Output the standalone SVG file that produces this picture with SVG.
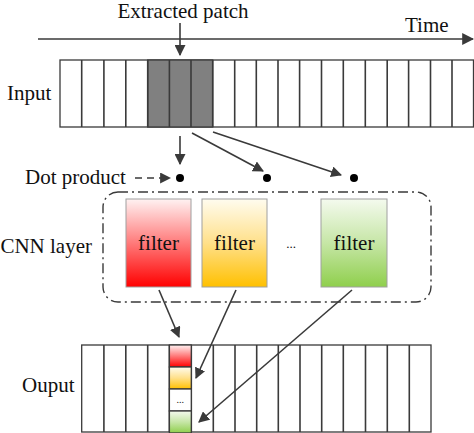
<svg xmlns="http://www.w3.org/2000/svg" width="474" height="433" viewBox="0 0 474 433">
<style>
text{font-family:"Liberation Serif","Times New Roman",serif;font-size:21px;fill:#111}
.cell{fill:#fff;stroke:#3a3a3a;stroke-width:1.3}
.gray{fill:#808080;stroke:#3a3a3a;stroke-width:1.3}
.ln{stroke:#3a3a3a;stroke-width:1.6;fill:none}
.flt{stroke:#a0a0a0;stroke-width:1}
</style>
<defs>
<marker id="ah" viewBox="0 0 10 10" refX="9" refY="5" markerWidth="11" markerHeight="11" markerUnits="userSpaceOnUse" orient="auto">
<path d="M0,0 L10,5 L0,10 Z" fill="#3a3a3a"/>
</marker>
<marker id="ahT" viewBox="0 0 10 10" refX="9" refY="5" markerWidth="12" markerHeight="12" markerUnits="userSpaceOnUse" orient="auto">
<path d="M0,0 L10,5 L0,10 Z" fill="#3a3a3a"/>
</marker>
<linearGradient id="gR" x1="0" y1="0" x2="0" y2="1"><stop offset="0" stop-color="#fff2f2"/><stop offset="0.5" stop-color="#ff7a7a"/><stop offset="1" stop-color="#ff0000"/></linearGradient>
<linearGradient id="gY" x1="0" y1="0" x2="0" y2="1"><stop offset="0" stop-color="#fffcef"/><stop offset="0.5" stop-color="#ffe08a"/><stop offset="1" stop-color="#ffc000"/></linearGradient>
<linearGradient id="gG" x1="0" y1="0" x2="0" y2="1"><stop offset="0" stop-color="#f4faee"/><stop offset="0.5" stop-color="#c6e6a6"/><stop offset="1" stop-color="#8fcf4c"/></linearGradient>
</defs>

<g id="labels">
<text x="183" y="18" text-anchor="middle">Extracted patch</text>
<text x="405" y="32">Time</text>
<text x="7" y="100">Input</text>
<text x="25" y="184">Dot product</text>
<text x="92" y="253" text-anchor="end">CNN layer</text>
<text x="22" y="392">Ouput</text>
</g>

<g id="time-axis">
<line class="ln" x1="38" y1="39" x2="473" y2="39" marker-end="url(#ahT)"/>
</g>

<g id="input">
<rect class="cell" x="60" y="60" width="413.5" height="67"/>
<rect class="gray" x="147.7" y="60" width="65" height="67"/>
<path class="ln" stroke-width="1.3" d="M81.7,60V127M103.9,60V127M125.8,60V127M147.7,60V127M169.4,60V127M191,60V127M212.7,60V127M234.7,60V127M256.3,60V127M278,60V127M299.6,60V127M321.5,60V127M343.3,60V127M365.3,60V127M387.2,60V127M408.6,60V127M430.5,60V127M452,60V127"/>
</g>

<g id="dots">
<circle cx="180" cy="178" r="4" fill="#000"/>
<circle cx="267" cy="178" r="4" fill="#000"/>
<circle cx="354" cy="178" r="4" fill="#000"/>
</g>

<g id="cnn-layer">
<rect x="103" y="192" width="328" height="110" rx="15" ry="15" fill="none" stroke="#3a3a3a" stroke-width="1.4" stroke-dasharray="10 4 2 4"/>
<g id="filter1"><rect class="flt" x="126" y="199" width="65" height="88" fill="url(#gR)"/><text x="158.5" y="250" text-anchor="middle">filter</text></g>
<g id="filter2"><rect class="flt" x="202" y="199" width="65" height="88" fill="url(#gY)"/><text x="234.5" y="250" text-anchor="middle">filter</text></g>
<text x="291" y="248" text-anchor="middle" style="font-size:13px">...</text>
<g id="filter3"><rect class="flt" x="321" y="199" width="66" height="88" fill="url(#gG)"/><text x="354" y="250" text-anchor="middle">filter</text></g>
</g>

<g id="output">
<rect class="cell" x="81.7" y="345" width="349.3" height="87"/>
<path class="ln" stroke-width="1.3" d="M103.9,345V432M125.8,345V432M147.7,345V432M169.4,345V432M191.3,345V432M213.3,345V432M235,345V432M256.7,345V432M278.3,345V432M300,345V432M321.7,345V432M343.3,345V432M365.5,345V432M387.3,345V432M409.3,345V432"/>
<rect class="cell" x="169.4" y="345" width="21.9" height="22" style="fill:url(#gR)"/>
<rect class="cell" x="169.4" y="367" width="21.9" height="22" style="fill:url(#gY)"/>
<rect class="cell" x="169.4" y="389" width="21.9" height="22"/>
<text x="180.3" y="403" text-anchor="middle" style="font-size:10px">...</text>
<rect class="cell" x="169.4" y="411" width="21.9" height="22" style="fill:url(#gG)"/>
</g>

<g id="connectors">
<line class="ln" x1="180" y1="23" x2="180" y2="55" marker-end="url(#ah)"/>
<line class="ln" x1="180" y1="136" x2="180" y2="164" marker-end="url(#ah)"/>
<line class="ln" x1="192" y1="133" x2="263" y2="171" marker-end="url(#ah)"/>
<line class="ln" x1="213" y1="132" x2="341" y2="175" marker-end="url(#ah)"/>
<line class="ln" x1="135" y1="178" x2="170" y2="178" stroke-dasharray="7 5" marker-end="url(#ah)"/>
<line class="ln" x1="159" y1="290" x2="179" y2="337" marker-end="url(#ah)"/>
<line class="ln" x1="236" y1="290" x2="196" y2="378" marker-end="url(#ah)"/>
<line class="ln" x1="352" y1="290" x2="199" y2="422" marker-end="url(#ah)"/>
</g>
</svg>
